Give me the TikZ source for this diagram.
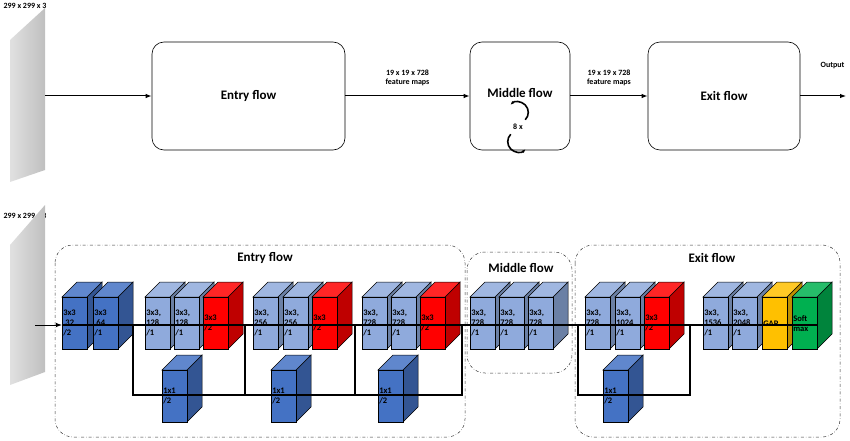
\documentclass[tikz,border=0pt]{standalone}
\usepackage{fontspec}
\setmainfont{Carlito}
\usetikzlibrary{arrows.meta}
\definecolor{db}{HTML}{4472C4}
\definecolor{lb}{HTML}{8FAADC}
\definecolor{rd}{HTML}{FF0000}
\definecolor{yl}{HTML}{FFC000}
\definecolor{gr}{HTML}{00B050}
\newcommand\cube[7]{% name,x,y,w,h,color,text
  \fill[#6!75!black,draw=black,line width=0.5pt] (#2+#4,#3)--(#2+#4+15,#3-15)--(#2+#4+15,#3+#5-15)--(#2+#4,#3+#5)--cycle;
  \fill[#6!85!white,draw=black,line width=0.5pt] (#2,#3)--(#2+15,#3-15)--(#2+#4+15,#3-15)--(#2+#4,#3)--cycle;
  \node[blk,fill=#6,minimum width=#4,minimum height=#5,text width=#4-2] (#1) at (#2,#3) {#7};}
\begin{document}
\begin{tikzpicture}[x=1pt,y=-1pt,
  blk/.style={draw=black,line width=0.5pt,anchor=north west,inner sep=1pt,align=left,font=\fontsize{8.5}{10}\selectfont\bfseries},
  flow/.style={draw=black,rounded corners=12pt,line width=0.6pt,minimum height=108,font=\fontsize{13}{15}\selectfont\bfseries},
  grp/.style={draw=black!80,rounded corners=18pt,dash dot,line width=0.5pt},
  arr/.style={-{Latex[length=6pt]},line width=1pt},
  lbl/.style={font=\fontsize{8}{9.5}\selectfont\bfseries,align=center},
  ln/.style={line width=1.3pt}]
\useasboundingbox (0,0) rectangle (850,441);
% top
\node[lbl,anchor=north west] at (0,0) {299 x 299 x 3};
\shade[left color=black!12,right color=black!25] (10,40)--(45,8)--(45,170)--(10,182)--cycle;
\node[flow,minimum width=193] (ef) at (248.5,96) {Entry flow};
\node[flow,minimum width=100] (mf) at (520,96) {};
\node[font=\fontsize{13}{15}\selectfont\bfseries] at (520,93) {Middle flow};
\node[flow,minimum width=152] (xf) at (724,96) {Exit flow};
\coordinate (in) at (45,96);
\coordinate (out) at (846,96);
\draw[arr] (in)--(ef);
\draw[arr] (ef)--(mf) node[lbl,midway,above=6pt] {19 x 19 x 728\\feature maps};
\draw[arr] (mf)--(xf) node[lbl,midway,above=6pt] {19 x 19 x 728\\feature maps};
\draw[arr] (xf)--(out);
\node[lbl,anchor=south east] at (848,72) {Output};
\node[circle,minimum size=20,inner sep=0,font=\fontsize{8}{9}\selectfont\bfseries] (cyc) at (518,127) {8 x};
\draw[line width=1.6pt,-{Latex[length=4pt]}] (cyc.north east) arc (45:-135:10.5);
\draw[line width=1.6pt,-{Latex[length=4pt]}] (cyc.south west) arc (225:45:10.5);
% bottom
\node[lbl,anchor=north west] at (0,210) {299 x 299 x 3};
\shade[left color=black!12,right color=black!25] (10,245)--(45,205)--(45,372)--(10,385)--cycle;
\draw[grp] (55,245) rectangle (465,437);
\draw[grp] (467,252) rectangle (572,373);
\draw[grp] (575,245) rectangle (840,437);
\node[font=\fontsize{13}{15}\selectfont\bfseries] at (265,258) {Entry flow};
\node[font=\fontsize{13}{15}\selectfont\bfseries] at (521,268) {Middle flow};
\node[font=\fontsize{13}{15}\selectfont\bfseries] at (712,258) {Exit flow};
\coordinate (bin) at (35,325);
\coordinate (sA) at (133,325); \coordinate (sB) at (245,325); \coordinate (sC) at (355,325);
\coordinate (sD) at (462,325); \coordinate (sE) at (578,325); \coordinate (sF) at (690,325);
\cube{c1}{62}{297}{25}{52}{db}{3x3\\,32\\/2}
\cube{c2}{93}{297}{25}{52}{db}{3x3\\,64\\/1}
\cube{e1}{145}{297}{25}{52}{lb}{3x3,\\128\\/1}
\cube{e2}{174}{297}{25}{52}{lb}{3x3,\\128\\/1}
\cube{e3}{203}{297}{25}{52}{rd}{3x3\\/2}
\cube{f1}{253}{297}{25}{52}{lb}{3x3,\\256\\/1}
\cube{f2}{283}{297}{25}{52}{lb}{3x3,\\256\\/1}
\cube{f3}{312}{297}{25}{52}{rd}{3x3\\/2}
\cube{g1}{362}{297}{25}{52}{lb}{3x3,\\728\\/1}
\cube{g2}{391}{297}{25}{52}{lb}{3x3,\\728\\/1}
\cube{g3}{420}{297}{25}{52}{rd}{3x3\\/2}
\cube{m1}{470}{297}{25}{52}{lb}{3x3,\\728\\/1}
\cube{m2}{499}{297}{25}{52}{lb}{3x3,\\728\\/1}
\cube{m3}{528}{297}{25}{52}{lb}{3x3,\\728\\/1}
\cube{x1}{585}{297}{25}{52}{lb}{3x3,\\728\\/1}
\cube{x2}{615}{297}{25}{52}{lb}{3x3,\\1024\\/1}
\cube{x3}{644}{297}{25}{52}{rd}{3x3\\/2}
\cube{y1}{703}{297}{25}{52}{lb}{3x3,\\1536\\/1}
\cube{y2}{732}{297}{25}{52}{lb}{3x3,\\2048\\/1}
\cube{y3}{762}{297}{25}{52}{yl}{GAP}
\cube{y4}{792}{297}{25}{52}{gr}{Soft\\max}
\cube{k1}{162}{370}{25}{52}{db}{1x1\\/2}
\cube{k2}{271}{370}{25}{52}{db}{1x1\\/2}
\cube{k3}{378}{370}{25}{52}{db}{1x1\\/2}
\cube{k4}{603}{370}{25}{52}{db}{1x1\\/2}
\draw[arr] (bin)--(c1.west|-bin);
\draw[ln] (c1.west|-bin)--(y4.east|-bin);
\draw[ln] (sA)|-(k1.west|-0,395)--(k1.east|-0,395)-|(sB);
\draw[ln] (sB)|-(k2.west|-0,395)--(k2.east|-0,395)-|(sC);
\draw[ln] (sC)|-(k3.west|-0,395)--(k3.east|-0,395)-|(sD);
\draw[ln] (sE)|-(k4.west|-0,395)--(k4.east|-0,395)-|(sF);
\end{tikzpicture}
\end{document}
